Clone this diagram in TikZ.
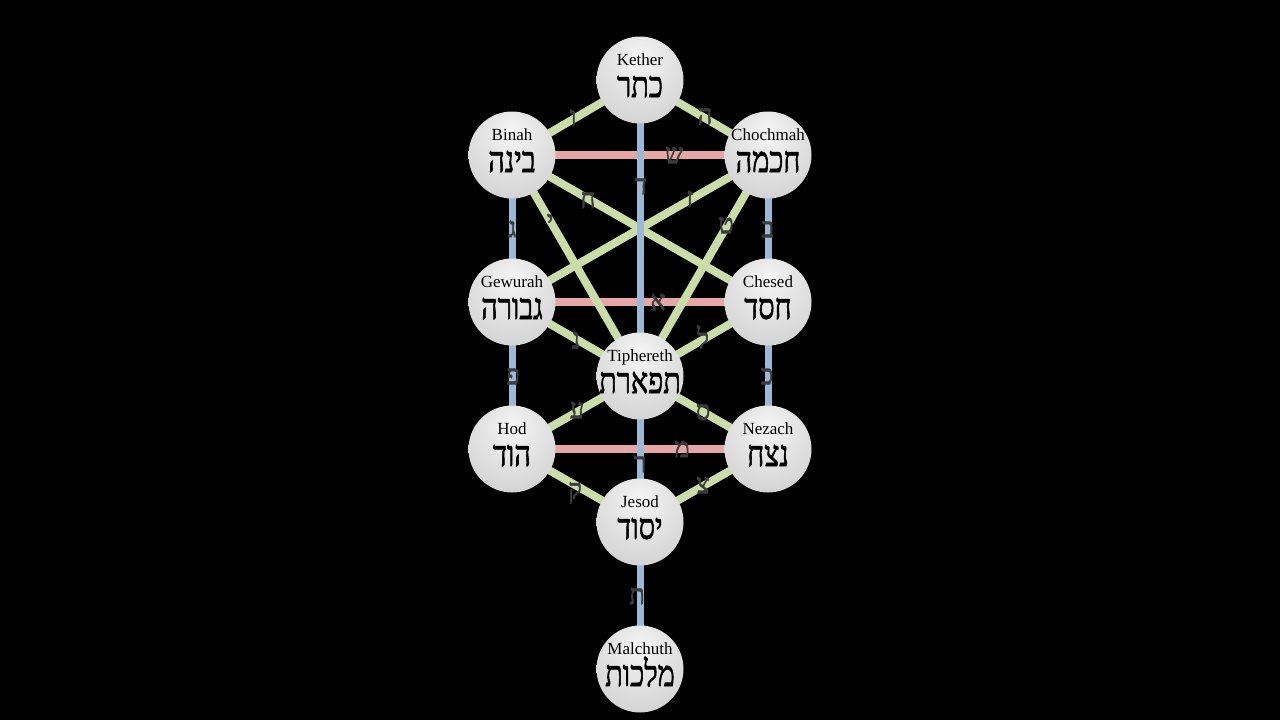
\documentclass[tikz,border=0pt]{standalone}
\usepackage{fontspec}
\setmainfont{Liberation Serif}
\newfontfamily\hebfont[Script=Hebrew, FakeStretch=0.8, FakeBold=1.6]{Liberation Serif}
\newfontfamily\hebletter[Script=Hebrew, FakeStretch=0.9, FakeBold=2]{Liberation Serif}
\TeXXeTstate=1
\definecolor{pathgreen}{HTML}{CADDA8}
\definecolor{pathred}{HTML}{E6A6A6}
\definecolor{pathblue}{HTML}{9DB7D7}
\definecolor{lettergray}{HTML}{3C3C3C}
\definecolor{sA}{HTML}{F6F6F6}
\definecolor{sB}{HTML}{E6E6E6}
\definecolor{sC}{HTML}{C4C4C4}
\definecolor{sD}{HTML}{A8A8A8}
\pgfdeclareradialshading{sephshade}{\pgfpoint{0bp}{14bp}}{color(0bp)=(sA); color(15bp)=(sB); color(50bp)=(sC); color(64bp)=(sD); color(80bp)=(sD)}
\pgfdeclarelayer{bg}
\pgfdeclarelayer{paths}
\pgfsetlayers{bg,paths,main}
\tikzset{
  sephira/.style={circle, minimum size=87pt, inner sep=0pt, shade, shading=sephshade},
  latinname/.style={anchor=base, inner sep=0pt, font=\fontsize{17}{20}\selectfont, text=black},
  hebname/.style={anchor=base, inner sep=0pt, font=\hebfont\fontsize{36}{40}\selectfont, text=black},
  greenpath/.style={draw=pathgreen, line width=8pt},
  redpath/.style={draw=pathred, line width=8pt},
  bluepath/.style={draw=pathblue, line width=7pt},
  letter/.style={inner sep=0pt, font=\hebletter\fontsize{28}{30}\selectfont, text=lettergray},
}
\newcommand\sephnode[5]{%
  \node[sephira] (#1) at (#2,#3) {};
  \node[latinname] (#1-lat) at ([yshift=15pt]#1.center) {#4};
  \node[hebname] (#1-heb) at ([yshift=-17pt]#1.center) {\beginR #5\endR};
}
\begin{document}
\begin{tikzpicture}[x=1pt,y=-1pt]
\begin{pgfonlayer}{bg}
  \fill[black] (0,0) rectangle (1280,720);
\end{pgfonlayer}
\useasboundingbox (0,0) rectangle (1280,720);

\sephnode{kether}{640}{80}{Kether}{כתר}
\sephnode{binah}{512}{155}{Binah}{בינה}
\sephnode{chochmah}{768}{155}{Chochmah}{חכמה}
\sephnode{gewurah}{512}{302}{Gewurah}{גבורה}
\sephnode{chesed}{768}{302}{Chesed}{חסד}
\sephnode{tiphereth}{640}{376}{Tiphereth}{תפארת}
\sephnode{hod}{512}{449}{Hod}{הוד}
\sephnode{nezach}{768}{449}{Nezach}{נצח}
\sephnode{jesod}{640}{522}{Jesod}{יסוד}
\sephnode{malchuth}{640}{669}{Malchuth}{מלכות}

\begin{pgfonlayer}{paths}
  % horizontal (mother letters)
  \draw[redpath] (binah.center) -- (chochmah.center);
  \draw[redpath] (gewurah.center) -- (chesed.center);
  \draw[redpath] (hod.center) -- (nezach.center);
  % diagonal paths
  \draw[greenpath] (kether.center) -- (binah.center);
  \draw[greenpath] (kether.center) -- (chochmah.center);
  \draw[greenpath] (binah.center) -- (chesed.center);
  \draw[greenpath] (chochmah.center) -- (gewurah.center);
  \draw[greenpath] (binah.center) -- (tiphereth.center);
  \draw[greenpath] (chochmah.center) -- (tiphereth.center);
  \draw[greenpath] (gewurah.center) -- (tiphereth.center);
  \draw[greenpath] (chesed.center) -- (tiphereth.center);
  \draw[greenpath] (tiphereth.center) -- (hod.center);
  \draw[greenpath] (tiphereth.center) -- (nezach.center);
  \draw[greenpath] (hod.center) -- (jesod.center);
  \draw[greenpath] (nezach.center) -- (jesod.center);
  % vertical paths
  \draw[bluepath] (kether.center) -- (tiphereth.center);
  \draw[bluepath] (tiphereth.center) -- (jesod.center);
  \draw[bluepath] (jesod.center) -- (malchuth.center);
  \draw[bluepath] (binah.center) -- (gewurah.center);
  \draw[bluepath] (gewurah.center) -- (hod.center);
  \draw[bluepath] (chochmah.center) -- (chesed.center);
  \draw[bluepath] (chesed.center) -- (nezach.center);
\end{pgfonlayer}

% path letters
\node[letter] (l-vav)    at (573,118) {ו};
\node[letter] (l-he)     at (705,116) {ה};
\node[letter] (l-shin)   at (674,155) {ש};
\node[letter] (l-dalet)  at (641,186) {ד};
\node[letter] (l-chet)   at (588,200) {ח};
\node[letter] (l-zayin)  at (690,199) {ז};
\node[letter] (l-yod)    at (550,222) {י};
\node[letter] (l-tet)    at (726,225) {ט};
\node[letter] (l-gimel)  at (512,229) {ג};
\node[letter] (l-bet)    at (768,229) {ב};
\node[letter] (l-alef)   at (658,302) {א};
\node[letter] (l-nun)    at (576,340) {נ};
\node[letter] (l-lamed)  at (703,337) {ל};
\node[letter] (l-pe)     at (513,376) {פ};
\node[letter] (l-kaf)    at (767,376) {כ};
\node[letter] (l-ayin)   at (577,410) {ע};
\node[letter] (l-samekh) at (703,412) {ס};
\node[letter] (l-mem)    at (682,449) {מ};
\node[letter] (l-resh)   at (640,464) {ר};
\node[letter] (l-qof)    at (575,493) {ק};
\node[letter] (l-tsadi)  at (703,485) {צ};
\node[letter] (l-tav)    at (637,596) {ת};
\end{tikzpicture}
\end{document}
